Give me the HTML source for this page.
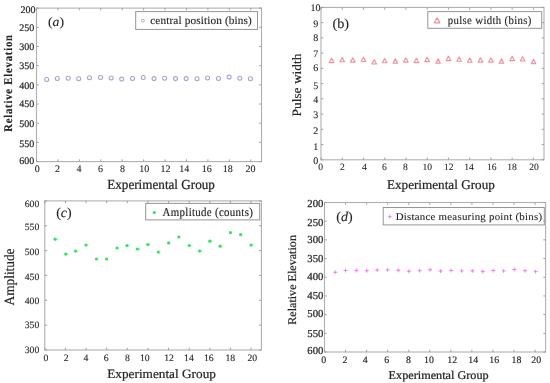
<!DOCTYPE html>
<html><head><meta charset="utf-8"><style>
html,body{margin:0;padding:0;background:#fff;}
body{width:550px;height:383px;overflow:hidden;font-family:"Liberation Serif", serif;}
svg{display:block;filter:blur(0.3px);}
</style></head><body>
<svg width="550" height="383" viewBox="0 0 550 383" font-family="Liberation Serif, serif" text-rendering="geometricPrecision"><text x="0" y="0" transform="matrix(1.0111,0,0,1.0638,107.221,188.974)" font-size="13" font-weight="normal" font-style="normal" fill="#262626" stroke="#262626" stroke-width="0.22">Experimental Group</text>
<text x="0" y="0" transform="matrix(1.0130,0,0,1.0213,386.920,188.591)" font-size="13" font-weight="normal" font-style="normal" fill="#262626" stroke="#262626" stroke-width="0.22">Experimental Group</text>
<text x="0" y="0" transform="matrix(1.0206,0,0,0.9872,107.217,377.885)" font-size="13" font-weight="normal" font-style="normal" fill="#262626" stroke="#262626" stroke-width="0.22">Experimental Group</text>
<text x="0" y="0" transform="matrix(1.0020,0,0,0.9618,388.624,378.575)" font-size="12.2" font-weight="normal" font-style="normal" fill="#262626" stroke="#262626" stroke-width="0.25">Experimental Group</text>
<text x="0" y="0" transform="matrix(1.0885,0,0,0.9802,12.064,131.845) rotate(-90)" font-size="10.8" font-weight="bold" font-style="normal" fill="#262626" stroke="#262626" stroke-width="0.15"><tspan letter-spacing="0.85">Relative Elevation</tspan></text>
<text x="0" y="0" transform="matrix(0.9863,0,0,1.0314,301.377,116.487) rotate(-90)" font-size="13" font-weight="normal" font-style="normal" fill="#262626" stroke="#262626" stroke-width="0.15">Pulse width</text>
<text x="0" y="0" transform="matrix(1.0979,0,0,1.0236,14.481,305.428) rotate(-90)" font-size="13" font-weight="normal" font-style="normal" fill="#262626" stroke="#262626" stroke-width="0.15">Amplitude</text>
<text x="0" y="0" transform="matrix(0.9623,0,0,0.9928,296.180,324.772) rotate(-90)" font-size="12.2" font-weight="normal" font-style="normal" fill="#262626" stroke="#262626" stroke-width="0.2">Relative Elevation</text>
<text x="0" y="0" transform="matrix(1.0249,0,0,1.0200,150.216,23.678)" font-size="11" font-weight="normal" font-style="normal" fill="#262626" stroke="#262626" stroke-width="0.12"><tspan letter-spacing="0.12">central position (bins)</tspan></text>
<text x="0" y="0" transform="matrix(0.9794,0,0,1.0400,447.778,24.430)" font-size="11" font-weight="normal" font-style="normal" fill="#262626" stroke="#262626" stroke-width="0.12"><tspan letter-spacing="0.35">pulse width (bins)</tspan></text>
<text x="0" y="0" transform="matrix(0.9925,0,0,1.0900,162.576,215.711)" font-size="11" font-weight="normal" font-style="normal" fill="#262626" stroke="#262626" stroke-width="0.15"><tspan letter-spacing="0.3">Amplitude (counts)</tspan></text>
<text x="0" y="0" transform="matrix(0.9864,0,0,0.9400,395.730,220.068)" font-size="11" font-weight="normal" font-style="normal" fill="#262626" stroke="#262626" stroke-width="0.12"><tspan letter-spacing="0.25">Distance measuring point (bins)</tspan></text>
<text x="0" y="0" transform="matrix(1.0571,0,0,1.0043,47.939,26.138)" font-size="13" font-weight="normal" font-style="normal" fill="#262626" stroke="#262626" stroke-width="0.12">(<tspan font-style="italic">a</tspan>)</text>
<text x="0" y="0" transform="matrix(1.0929,0,0,1.0468,332.417,28.021)" font-size="13" font-weight="normal" font-style="normal" fill="#262626" stroke="#262626" stroke-width="0.12">(b)</text>
<text x="0" y="0" transform="matrix(1.0717,0,0,1.0468,56.130,216.521)" font-size="13" font-weight="normal" font-style="normal" fill="#262626" stroke="#262626" stroke-width="0.12">(<tspan font-style="italic">c</tspan>)</text>
<text x="0" y="0" transform="matrix(1.0786,0,0,1.0383,336.226,221.045)" font-size="13" font-weight="normal" font-style="normal" fill="#262626" stroke="#262626" stroke-width="0.12">(<tspan font-style="italic">d</tspan>)</text>
<rect x="36.5" y="8.1" width="225.00" height="153.50" fill="none" stroke="#b0b0b0" stroke-width="1.1"/>
<line x1="36.50" y1="161.6" x2="36.50" y2="159.29999999999998" stroke="#999999" stroke-width="0.9"/>
<line x1="36.50" y1="8.1" x2="36.50" y2="10.399999999999999" stroke="#999999" stroke-width="0.9"/>
<text x="37.20" y="171.85" font-size="10" text-anchor="middle" fill="#262626" stroke="#262626" stroke-width="0.1">0</text>
<line x1="57.93" y1="161.6" x2="57.93" y2="159.29999999999998" stroke="#999999" stroke-width="0.9"/>
<line x1="57.93" y1="8.1" x2="57.93" y2="10.399999999999999" stroke="#999999" stroke-width="0.9"/>
<text x="57.60" y="171.85" font-size="10" text-anchor="middle" fill="#262626" stroke="#262626" stroke-width="0.1">2</text>
<line x1="79.36" y1="161.6" x2="79.36" y2="159.29999999999998" stroke="#999999" stroke-width="0.9"/>
<line x1="79.36" y1="8.1" x2="79.36" y2="10.399999999999999" stroke="#999999" stroke-width="0.9"/>
<text x="79.00" y="171.85" font-size="10" text-anchor="middle" fill="#262626" stroke="#262626" stroke-width="0.1">4</text>
<line x1="100.79" y1="161.6" x2="100.79" y2="159.29999999999998" stroke="#999999" stroke-width="0.9"/>
<line x1="100.79" y1="8.1" x2="100.79" y2="10.399999999999999" stroke="#999999" stroke-width="0.9"/>
<text x="100.40" y="171.85" font-size="10" text-anchor="middle" fill="#262626" stroke="#262626" stroke-width="0.1">6</text>
<line x1="122.21" y1="161.6" x2="122.21" y2="159.29999999999998" stroke="#999999" stroke-width="0.9"/>
<line x1="122.21" y1="8.1" x2="122.21" y2="10.399999999999999" stroke="#999999" stroke-width="0.9"/>
<text x="122.50" y="171.85" font-size="10" text-anchor="middle" fill="#262626" stroke="#262626" stroke-width="0.1">8</text>
<line x1="143.64" y1="161.6" x2="143.64" y2="159.29999999999998" stroke="#999999" stroke-width="0.9"/>
<line x1="143.64" y1="8.1" x2="143.64" y2="10.399999999999999" stroke="#999999" stroke-width="0.9"/>
<text x="144.20" y="171.85" font-size="10" text-anchor="middle" fill="#262626" stroke="#262626" stroke-width="0.1">10</text>
<line x1="165.07" y1="161.6" x2="165.07" y2="159.29999999999998" stroke="#999999" stroke-width="0.9"/>
<line x1="165.07" y1="8.1" x2="165.07" y2="10.399999999999999" stroke="#999999" stroke-width="0.9"/>
<text x="165.60" y="171.85" font-size="10" text-anchor="middle" fill="#262626" stroke="#262626" stroke-width="0.1">12</text>
<line x1="186.50" y1="161.6" x2="186.50" y2="159.29999999999998" stroke="#999999" stroke-width="0.9"/>
<line x1="186.50" y1="8.1" x2="186.50" y2="10.399999999999999" stroke="#999999" stroke-width="0.9"/>
<text x="184.30" y="171.85" font-size="10" text-anchor="middle" fill="#262626" stroke="#262626" stroke-width="0.1">14</text>
<line x1="207.93" y1="161.6" x2="207.93" y2="159.29999999999998" stroke="#999999" stroke-width="0.9"/>
<line x1="207.93" y1="8.1" x2="207.93" y2="10.399999999999999" stroke="#999999" stroke-width="0.9"/>
<text x="206.80" y="171.85" font-size="10" text-anchor="middle" fill="#262626" stroke="#262626" stroke-width="0.1">16</text>
<line x1="229.36" y1="161.6" x2="229.36" y2="159.29999999999998" stroke="#999999" stroke-width="0.9"/>
<line x1="229.36" y1="8.1" x2="229.36" y2="10.399999999999999" stroke="#999999" stroke-width="0.9"/>
<text x="227.80" y="171.85" font-size="10" text-anchor="middle" fill="#262626" stroke="#262626" stroke-width="0.1">18</text>
<line x1="250.79" y1="161.6" x2="250.79" y2="159.29999999999998" stroke="#999999" stroke-width="0.9"/>
<line x1="250.79" y1="8.1" x2="250.79" y2="10.399999999999999" stroke="#999999" stroke-width="0.9"/>
<text x="250.60" y="171.85" font-size="10" text-anchor="middle" fill="#262626" stroke="#262626" stroke-width="0.1">20</text>
<line x1="36.5" y1="8.10" x2="38.8" y2="8.10" stroke="#999999" stroke-width="0.9"/>
<line x1="261.5" y1="8.10" x2="259.2" y2="8.10" stroke="#999999" stroke-width="0.9"/>
<text x="35.40" y="13.25" font-size="10" text-anchor="end" fill="#262626" stroke="#262626" stroke-width="0.2">200</text>
<line x1="36.5" y1="27.29" x2="38.8" y2="27.29" stroke="#999999" stroke-width="0.9"/>
<line x1="261.5" y1="27.29" x2="259.2" y2="27.29" stroke="#999999" stroke-width="0.9"/>
<text x="34.30" y="31.05" font-size="10" text-anchor="end" fill="#262626" stroke="#262626" stroke-width="0.2">250</text>
<line x1="36.5" y1="46.48" x2="38.8" y2="46.48" stroke="#999999" stroke-width="0.9"/>
<line x1="261.5" y1="46.48" x2="259.2" y2="46.48" stroke="#999999" stroke-width="0.9"/>
<text x="34.30" y="49.85" font-size="10" text-anchor="end" fill="#262626" stroke="#262626" stroke-width="0.2">300</text>
<line x1="36.5" y1="65.66" x2="38.8" y2="65.66" stroke="#999999" stroke-width="0.9"/>
<line x1="261.5" y1="65.66" x2="259.2" y2="65.66" stroke="#999999" stroke-width="0.9"/>
<text x="34.30" y="68.85" font-size="10" text-anchor="end" fill="#262626" stroke="#262626" stroke-width="0.2">350</text>
<line x1="36.5" y1="84.85" x2="38.8" y2="84.85" stroke="#999999" stroke-width="0.9"/>
<line x1="261.5" y1="84.85" x2="259.2" y2="84.85" stroke="#999999" stroke-width="0.9"/>
<text x="34.30" y="88.65" font-size="10" text-anchor="end" fill="#262626" stroke="#262626" stroke-width="0.2">400</text>
<line x1="36.5" y1="104.04" x2="38.8" y2="104.04" stroke="#999999" stroke-width="0.9"/>
<line x1="261.5" y1="104.04" x2="259.2" y2="104.04" stroke="#999999" stroke-width="0.9"/>
<text x="34.30" y="107.05" font-size="10" text-anchor="end" fill="#262626" stroke="#262626" stroke-width="0.2">450</text>
<line x1="36.5" y1="123.22" x2="38.8" y2="123.22" stroke="#999999" stroke-width="0.9"/>
<line x1="261.5" y1="123.22" x2="259.2" y2="123.22" stroke="#999999" stroke-width="0.9"/>
<text x="34.30" y="127.45" font-size="10" text-anchor="end" fill="#262626" stroke="#262626" stroke-width="0.2">500</text>
<line x1="36.5" y1="142.41" x2="38.8" y2="142.41" stroke="#999999" stroke-width="0.9"/>
<line x1="261.5" y1="142.41" x2="259.2" y2="142.41" stroke="#999999" stroke-width="0.9"/>
<text x="34.30" y="147.05" font-size="10" text-anchor="end" fill="#262626" stroke="#262626" stroke-width="0.2">550</text>
<line x1="36.5" y1="161.60" x2="38.8" y2="161.60" stroke="#999999" stroke-width="0.9"/>
<line x1="261.5" y1="161.60" x2="259.2" y2="161.60" stroke="#999999" stroke-width="0.9"/>
<text x="34.30" y="163.85" font-size="10" text-anchor="end" fill="#262626" stroke="#262626" stroke-width="0.2">600</text>
<rect x="135.7" y="11.6" width="121.80" height="17.80" fill="none" stroke="#959595" stroke-width="1"/>
<circle cx="142.90" cy="20.70" r="1.45" fill="none" stroke="#a2a2d8" stroke-width="0.9"/>
<circle cx="46.70" cy="79.40" r="2.0" fill="none" stroke="#a2a2d8" stroke-width="1.05"/>
<circle cx="57.30" cy="78.50" r="2.0" fill="none" stroke="#a2a2d8" stroke-width="1.05"/>
<circle cx="68.20" cy="78.30" r="2.0" fill="none" stroke="#a2a2d8" stroke-width="1.05"/>
<circle cx="78.70" cy="78.70" r="2.0" fill="none" stroke="#a2a2d8" stroke-width="1.05"/>
<circle cx="89.50" cy="77.80" r="2.0" fill="none" stroke="#a2a2d8" stroke-width="1.05"/>
<circle cx="100.50" cy="77.40" r="2.0" fill="none" stroke="#a2a2d8" stroke-width="1.05"/>
<circle cx="111.10" cy="78.00" r="2.0" fill="none" stroke="#a2a2d8" stroke-width="1.05"/>
<circle cx="121.70" cy="79.10" r="2.0" fill="none" stroke="#a2a2d8" stroke-width="1.05"/>
<circle cx="132.50" cy="78.50" r="2.0" fill="none" stroke="#a2a2d8" stroke-width="1.05"/>
<circle cx="143.20" cy="77.40" r="2.0" fill="none" stroke="#a2a2d8" stroke-width="1.05"/>
<circle cx="154.00" cy="78.60" r="2.0" fill="none" stroke="#a2a2d8" stroke-width="1.05"/>
<circle cx="164.60" cy="78.20" r="2.0" fill="none" stroke="#a2a2d8" stroke-width="1.05"/>
<circle cx="175.50" cy="78.60" r="2.0" fill="none" stroke="#a2a2d8" stroke-width="1.05"/>
<circle cx="186.10" cy="78.60" r="2.0" fill="none" stroke="#a2a2d8" stroke-width="1.05"/>
<circle cx="197.00" cy="78.80" r="2.0" fill="none" stroke="#a2a2d8" stroke-width="1.05"/>
<circle cx="207.60" cy="78.00" r="2.0" fill="none" stroke="#a2a2d8" stroke-width="1.05"/>
<circle cx="218.50" cy="78.40" r="2.0" fill="none" stroke="#a2a2d8" stroke-width="1.05"/>
<circle cx="229.10" cy="77.10" r="2.0" fill="none" stroke="#a2a2d8" stroke-width="1.05"/>
<circle cx="239.80" cy="78.20" r="2.0" fill="none" stroke="#a2a2d8" stroke-width="1.05"/>
<circle cx="250.40" cy="78.80" r="2.0" fill="none" stroke="#a2a2d8" stroke-width="1.05"/>
<rect x="321" y="7.4" width="223.00" height="152.40" fill="none" stroke="#b0b0b0" stroke-width="1.1"/>
<line x1="321.00" y1="159.8" x2="321.00" y2="157.5" stroke="#999999" stroke-width="0.9"/>
<line x1="321.00" y1="7.4" x2="321.00" y2="9.7" stroke="#999999" stroke-width="0.9"/>
<text x="320.70" y="170.22" font-size="9.6" text-anchor="middle" fill="#262626" stroke="#262626" stroke-width="0.08">0</text>
<line x1="342.24" y1="159.8" x2="342.24" y2="157.5" stroke="#999999" stroke-width="0.9"/>
<line x1="342.24" y1="7.4" x2="342.24" y2="9.7" stroke="#999999" stroke-width="0.9"/>
<text x="342.50" y="170.22" font-size="9.6" text-anchor="middle" fill="#262626" stroke="#262626" stroke-width="0.08">2</text>
<line x1="363.48" y1="159.8" x2="363.48" y2="157.5" stroke="#999999" stroke-width="0.9"/>
<line x1="363.48" y1="7.4" x2="363.48" y2="9.7" stroke="#999999" stroke-width="0.9"/>
<text x="364.30" y="170.22" font-size="9.6" text-anchor="middle" fill="#262626" stroke="#262626" stroke-width="0.08">4</text>
<line x1="384.71" y1="159.8" x2="384.71" y2="157.5" stroke="#999999" stroke-width="0.9"/>
<line x1="384.71" y1="7.4" x2="384.71" y2="9.7" stroke="#999999" stroke-width="0.9"/>
<text x="384.40" y="170.22" font-size="9.6" text-anchor="middle" fill="#262626" stroke="#262626" stroke-width="0.08">6</text>
<line x1="405.95" y1="159.8" x2="405.95" y2="157.5" stroke="#999999" stroke-width="0.9"/>
<line x1="405.95" y1="7.4" x2="405.95" y2="9.7" stroke="#999999" stroke-width="0.9"/>
<text x="405.50" y="170.22" font-size="9.6" text-anchor="middle" fill="#262626" stroke="#262626" stroke-width="0.08">8</text>
<line x1="427.19" y1="159.8" x2="427.19" y2="157.5" stroke="#999999" stroke-width="0.9"/>
<line x1="427.19" y1="7.4" x2="427.19" y2="9.7" stroke="#999999" stroke-width="0.9"/>
<text x="427.30" y="170.22" font-size="9.6" text-anchor="middle" fill="#262626" stroke="#262626" stroke-width="0.08">10</text>
<line x1="448.43" y1="159.8" x2="448.43" y2="157.5" stroke="#999999" stroke-width="0.9"/>
<line x1="448.43" y1="7.4" x2="448.43" y2="9.7" stroke="#999999" stroke-width="0.9"/>
<text x="448.80" y="170.22" font-size="9.6" text-anchor="middle" fill="#262626" stroke="#262626" stroke-width="0.08">12</text>
<line x1="469.67" y1="159.8" x2="469.67" y2="157.5" stroke="#999999" stroke-width="0.9"/>
<line x1="469.67" y1="7.4" x2="469.67" y2="9.7" stroke="#999999" stroke-width="0.9"/>
<text x="469.00" y="170.22" font-size="9.6" text-anchor="middle" fill="#262626" stroke="#262626" stroke-width="0.08">14</text>
<line x1="490.90" y1="159.8" x2="490.90" y2="157.5" stroke="#999999" stroke-width="0.9"/>
<line x1="490.90" y1="7.4" x2="490.90" y2="9.7" stroke="#999999" stroke-width="0.9"/>
<text x="491.70" y="170.22" font-size="9.6" text-anchor="middle" fill="#262626" stroke="#262626" stroke-width="0.08">16</text>
<line x1="512.14" y1="159.8" x2="512.14" y2="157.5" stroke="#999999" stroke-width="0.9"/>
<line x1="512.14" y1="7.4" x2="512.14" y2="9.7" stroke="#999999" stroke-width="0.9"/>
<text x="512.00" y="170.22" font-size="9.6" text-anchor="middle" fill="#262626" stroke="#262626" stroke-width="0.08">18</text>
<line x1="533.38" y1="159.8" x2="533.38" y2="157.5" stroke="#999999" stroke-width="0.9"/>
<line x1="533.38" y1="7.4" x2="533.38" y2="9.7" stroke="#999999" stroke-width="0.9"/>
<text x="534.00" y="170.22" font-size="9.6" text-anchor="middle" fill="#262626" stroke="#262626" stroke-width="0.08">20</text>
<line x1="321" y1="7.40" x2="323.3" y2="7.40" stroke="#999999" stroke-width="0.9"/>
<line x1="544.0" y1="7.40" x2="541.7" y2="7.40" stroke="#999999" stroke-width="0.9"/>
<text x="320.60" y="11.45" font-size="10" text-anchor="end" fill="#262626" stroke="#262626" stroke-width="0.1">10</text>
<line x1="321" y1="22.64" x2="323.3" y2="22.64" stroke="#999999" stroke-width="0.9"/>
<line x1="544.0" y1="22.64" x2="541.7" y2="22.64" stroke="#999999" stroke-width="0.9"/>
<text x="318.20" y="26.55" font-size="10" text-anchor="end" fill="#262626" stroke="#262626" stroke-width="0.1">9</text>
<line x1="321" y1="37.88" x2="323.3" y2="37.88" stroke="#999999" stroke-width="0.9"/>
<line x1="544.0" y1="37.88" x2="541.7" y2="37.88" stroke="#999999" stroke-width="0.9"/>
<text x="318.20" y="41.05" font-size="10" text-anchor="end" fill="#262626" stroke="#262626" stroke-width="0.1">8</text>
<line x1="321" y1="53.12" x2="323.3" y2="53.12" stroke="#999999" stroke-width="0.9"/>
<line x1="544.0" y1="53.12" x2="541.7" y2="53.12" stroke="#999999" stroke-width="0.9"/>
<text x="318.20" y="56.55" font-size="10" text-anchor="end" fill="#262626" stroke="#262626" stroke-width="0.1">7</text>
<line x1="321" y1="68.36" x2="323.3" y2="68.36" stroke="#999999" stroke-width="0.9"/>
<line x1="544.0" y1="68.36" x2="541.7" y2="68.36" stroke="#999999" stroke-width="0.9"/>
<text x="318.20" y="71.15" font-size="10" text-anchor="end" fill="#262626" stroke="#262626" stroke-width="0.1">6</text>
<line x1="321" y1="83.60" x2="323.3" y2="83.60" stroke="#999999" stroke-width="0.9"/>
<line x1="544.0" y1="83.60" x2="541.7" y2="83.60" stroke="#999999" stroke-width="0.9"/>
<text x="318.20" y="89.25" font-size="10" text-anchor="end" fill="#262626" stroke="#262626" stroke-width="0.1">5</text>
<line x1="321" y1="98.84" x2="323.3" y2="98.84" stroke="#999999" stroke-width="0.9"/>
<line x1="544.0" y1="98.84" x2="541.7" y2="98.84" stroke="#999999" stroke-width="0.9"/>
<text x="318.20" y="103.45" font-size="10" text-anchor="end" fill="#262626" stroke="#262626" stroke-width="0.1">4</text>
<line x1="321" y1="114.08" x2="323.3" y2="114.08" stroke="#999999" stroke-width="0.9"/>
<line x1="544.0" y1="114.08" x2="541.7" y2="114.08" stroke="#999999" stroke-width="0.9"/>
<text x="318.20" y="118.25" font-size="10" text-anchor="end" fill="#262626" stroke="#262626" stroke-width="0.1">3</text>
<line x1="321" y1="129.32" x2="323.3" y2="129.32" stroke="#999999" stroke-width="0.9"/>
<line x1="544.0" y1="129.32" x2="541.7" y2="129.32" stroke="#999999" stroke-width="0.9"/>
<text x="318.20" y="134.45" font-size="10" text-anchor="end" fill="#262626" stroke="#262626" stroke-width="0.1">2</text>
<line x1="321" y1="144.56" x2="323.3" y2="144.56" stroke="#999999" stroke-width="0.9"/>
<line x1="544.0" y1="144.56" x2="541.7" y2="144.56" stroke="#999999" stroke-width="0.9"/>
<text x="318.20" y="149.85" font-size="10" text-anchor="end" fill="#262626" stroke="#262626" stroke-width="0.1">1</text>
<line x1="321" y1="159.80" x2="323.3" y2="159.80" stroke="#999999" stroke-width="0.9"/>
<line x1="544.0" y1="159.80" x2="541.7" y2="159.80" stroke="#999999" stroke-width="0.9"/>
<text x="318.20" y="164.05" font-size="10" text-anchor="end" fill="#262626" stroke="#262626" stroke-width="0.1">0</text>
<rect x="427.8" y="11.6" width="113.90" height="16.70" fill="none" stroke="#959595" stroke-width="1"/>
<path d="M437.10,17.90 L439.80,22.80 L434.40,22.80 Z" fill="none" stroke="#f2919d" stroke-width="1.15" stroke-linejoin="round"/>
<path d="M331.50,58.25 L333.75,62.55 L329.25,62.55 Z" fill="none" stroke="#f2919d" stroke-width="1.15" stroke-linejoin="round"/>
<path d="M342.20,57.45 L344.45,61.75 L339.95,61.75 Z" fill="none" stroke="#f2919d" stroke-width="1.15" stroke-linejoin="round"/>
<path d="M352.80,57.75 L355.05,62.05 L350.55,62.05 Z" fill="none" stroke="#f2919d" stroke-width="1.15" stroke-linejoin="round"/>
<path d="M363.50,57.15 L365.75,61.45 L361.25,61.45 Z" fill="none" stroke="#f2919d" stroke-width="1.15" stroke-linejoin="round"/>
<path d="M374.20,59.65 L376.45,63.95 L371.95,63.95 Z" fill="none" stroke="#f2919d" stroke-width="1.15" stroke-linejoin="round"/>
<path d="M384.60,58.45 L386.85,62.75 L382.35,62.75 Z" fill="none" stroke="#f2919d" stroke-width="1.15" stroke-linejoin="round"/>
<path d="M395.30,58.85 L397.55,63.15 L393.05,63.15 Z" fill="none" stroke="#f2919d" stroke-width="1.15" stroke-linejoin="round"/>
<path d="M405.80,57.75 L408.05,62.05 L403.55,62.05 Z" fill="none" stroke="#f2919d" stroke-width="1.15" stroke-linejoin="round"/>
<path d="M416.40,58.25 L418.65,62.55 L414.15,62.55 Z" fill="none" stroke="#f2919d" stroke-width="1.15" stroke-linejoin="round"/>
<path d="M427.10,57.25 L429.35,61.55 L424.85,61.55 Z" fill="none" stroke="#f2919d" stroke-width="1.15" stroke-linejoin="round"/>
<path d="M438.10,58.85 L440.35,63.15 L435.85,63.15 Z" fill="none" stroke="#f2919d" stroke-width="1.15" stroke-linejoin="round"/>
<path d="M448.40,56.25 L450.65,60.55 L446.15,60.55 Z" fill="none" stroke="#f2919d" stroke-width="1.15" stroke-linejoin="round"/>
<path d="M459.10,56.95 L461.35,61.25 L456.85,61.25 Z" fill="none" stroke="#f2919d" stroke-width="1.15" stroke-linejoin="round"/>
<path d="M469.80,57.95 L472.05,62.25 L467.55,62.25 Z" fill="none" stroke="#f2919d" stroke-width="1.15" stroke-linejoin="round"/>
<path d="M480.50,57.75 L482.75,62.05 L478.25,62.05 Z" fill="none" stroke="#f2919d" stroke-width="1.15" stroke-linejoin="round"/>
<path d="M490.90,57.75 L493.15,62.05 L488.65,62.05 Z" fill="none" stroke="#f2919d" stroke-width="1.15" stroke-linejoin="round"/>
<path d="M501.40,58.85 L503.65,63.15 L499.15,63.15 Z" fill="none" stroke="#f2919d" stroke-width="1.15" stroke-linejoin="round"/>
<path d="M512.10,56.25 L514.35,60.55 L509.85,60.55 Z" fill="none" stroke="#f2919d" stroke-width="1.15" stroke-linejoin="round"/>
<path d="M522.60,56.65 L524.85,60.95 L520.35,60.95 Z" fill="none" stroke="#f2919d" stroke-width="1.15" stroke-linejoin="round"/>
<path d="M533.50,59.35 L535.75,63.65 L531.25,63.65 Z" fill="none" stroke="#f2919d" stroke-width="1.15" stroke-linejoin="round"/>
<rect x="44.8" y="200.9" width="216.60" height="149.10" fill="none" stroke="#b0b0b0" stroke-width="1.1"/>
<line x1="44.80" y1="350.0" x2="44.80" y2="347.7" stroke="#999999" stroke-width="0.9"/>
<line x1="44.80" y1="200.9" x2="44.80" y2="203.20000000000002" stroke="#999999" stroke-width="0.9"/>
<text x="45.90" y="361.45" font-size="9.7" text-anchor="middle" fill="#262626" stroke="#262626" stroke-width="0.12">0</text>
<line x1="65.43" y1="350.0" x2="65.43" y2="347.7" stroke="#999999" stroke-width="0.9"/>
<line x1="65.43" y1="200.9" x2="65.43" y2="203.20000000000002" stroke="#999999" stroke-width="0.9"/>
<text x="66.20" y="361.45" font-size="9.7" text-anchor="middle" fill="#262626" stroke="#262626" stroke-width="0.12">2</text>
<line x1="86.06" y1="350.0" x2="86.06" y2="347.7" stroke="#999999" stroke-width="0.9"/>
<line x1="86.06" y1="200.9" x2="86.06" y2="203.20000000000002" stroke="#999999" stroke-width="0.9"/>
<text x="85.80" y="361.45" font-size="9.7" text-anchor="middle" fill="#262626" stroke="#262626" stroke-width="0.12">4</text>
<line x1="106.69" y1="350.0" x2="106.69" y2="347.7" stroke="#999999" stroke-width="0.9"/>
<line x1="106.69" y1="200.9" x2="106.69" y2="203.20000000000002" stroke="#999999" stroke-width="0.9"/>
<text x="106.20" y="361.45" font-size="9.7" text-anchor="middle" fill="#262626" stroke="#262626" stroke-width="0.12">6</text>
<line x1="127.31" y1="350.0" x2="127.31" y2="347.7" stroke="#999999" stroke-width="0.9"/>
<line x1="127.31" y1="200.9" x2="127.31" y2="203.20000000000002" stroke="#999999" stroke-width="0.9"/>
<text x="127.30" y="361.45" font-size="9.7" text-anchor="middle" fill="#262626" stroke="#262626" stroke-width="0.12">8</text>
<line x1="147.94" y1="350.0" x2="147.94" y2="347.7" stroke="#999999" stroke-width="0.9"/>
<line x1="147.94" y1="200.9" x2="147.94" y2="203.20000000000002" stroke="#999999" stroke-width="0.9"/>
<text x="144.80" y="361.45" font-size="9.7" text-anchor="middle" fill="#262626" stroke="#262626" stroke-width="0.12">10</text>
<line x1="168.57" y1="350.0" x2="168.57" y2="347.7" stroke="#999999" stroke-width="0.9"/>
<line x1="168.57" y1="200.9" x2="168.57" y2="203.20000000000002" stroke="#999999" stroke-width="0.9"/>
<text x="169.00" y="361.45" font-size="9.7" text-anchor="middle" fill="#262626" stroke="#262626" stroke-width="0.12">12</text>
<line x1="189.20" y1="350.0" x2="189.20" y2="347.7" stroke="#999999" stroke-width="0.9"/>
<line x1="189.20" y1="200.9" x2="189.20" y2="203.20000000000002" stroke="#999999" stroke-width="0.9"/>
<text x="188.90" y="361.45" font-size="9.7" text-anchor="middle" fill="#262626" stroke="#262626" stroke-width="0.12">14</text>
<line x1="209.83" y1="350.0" x2="209.83" y2="347.7" stroke="#999999" stroke-width="0.9"/>
<line x1="209.83" y1="200.9" x2="209.83" y2="203.20000000000002" stroke="#999999" stroke-width="0.9"/>
<text x="208.80" y="361.45" font-size="9.7" text-anchor="middle" fill="#262626" stroke="#262626" stroke-width="0.12">16</text>
<line x1="230.46" y1="350.0" x2="230.46" y2="347.7" stroke="#999999" stroke-width="0.9"/>
<line x1="230.46" y1="200.9" x2="230.46" y2="203.20000000000002" stroke="#999999" stroke-width="0.9"/>
<text x="230.30" y="361.45" font-size="9.7" text-anchor="middle" fill="#262626" stroke="#262626" stroke-width="0.12">18</text>
<line x1="251.09" y1="350.0" x2="251.09" y2="347.7" stroke="#999999" stroke-width="0.9"/>
<line x1="251.09" y1="200.9" x2="251.09" y2="203.20000000000002" stroke="#999999" stroke-width="0.9"/>
<text x="252.30" y="361.45" font-size="9.7" text-anchor="middle" fill="#262626" stroke="#262626" stroke-width="0.12">20</text>
<line x1="44.8" y1="200.90" x2="47.099999999999994" y2="200.90" stroke="#999999" stroke-width="0.9"/>
<line x1="261.4" y1="200.90" x2="259.09999999999997" y2="200.90" stroke="#999999" stroke-width="0.9"/>
<text x="39.30" y="207.25" font-size="9.7" text-anchor="end" fill="#262626" stroke="#262626" stroke-width="0.12">600</text>
<line x1="44.8" y1="225.75" x2="47.099999999999994" y2="225.75" stroke="#999999" stroke-width="0.9"/>
<line x1="261.4" y1="225.75" x2="259.09999999999997" y2="225.75" stroke="#999999" stroke-width="0.9"/>
<text x="39.30" y="229.75" font-size="9.7" text-anchor="end" fill="#262626" stroke="#262626" stroke-width="0.12">550</text>
<line x1="44.8" y1="250.60" x2="47.099999999999994" y2="250.60" stroke="#999999" stroke-width="0.9"/>
<line x1="261.4" y1="250.60" x2="259.09999999999997" y2="250.60" stroke="#999999" stroke-width="0.9"/>
<text x="39.30" y="255.45" font-size="9.7" text-anchor="end" fill="#262626" stroke="#262626" stroke-width="0.12">500</text>
<line x1="44.8" y1="275.45" x2="47.099999999999994" y2="275.45" stroke="#999999" stroke-width="0.9"/>
<line x1="261.4" y1="275.45" x2="259.09999999999997" y2="275.45" stroke="#999999" stroke-width="0.9"/>
<text x="39.30" y="279.75" font-size="9.7" text-anchor="end" fill="#262626" stroke="#262626" stroke-width="0.12">450</text>
<line x1="44.8" y1="300.30" x2="47.099999999999994" y2="300.30" stroke="#999999" stroke-width="0.9"/>
<line x1="261.4" y1="300.30" x2="259.09999999999997" y2="300.30" stroke="#999999" stroke-width="0.9"/>
<text x="39.30" y="303.75" font-size="9.7" text-anchor="end" fill="#262626" stroke="#262626" stroke-width="0.12">400</text>
<line x1="44.8" y1="325.15" x2="47.099999999999994" y2="325.15" stroke="#999999" stroke-width="0.9"/>
<line x1="261.4" y1="325.15" x2="259.09999999999997" y2="325.15" stroke="#999999" stroke-width="0.9"/>
<text x="39.30" y="328.15" font-size="9.7" text-anchor="end" fill="#262626" stroke="#262626" stroke-width="0.12">350</text>
<line x1="44.8" y1="350.00" x2="47.099999999999994" y2="350.00" stroke="#999999" stroke-width="0.9"/>
<line x1="261.4" y1="350.00" x2="259.09999999999997" y2="350.00" stroke="#999999" stroke-width="0.9"/>
<text x="39.30" y="352.65" font-size="9.7" text-anchor="end" fill="#262626" stroke="#262626" stroke-width="0.12">300</text>
<rect x="145.7" y="203.4" width="114.00" height="16.50" fill="none" stroke="#959595" stroke-width="1"/>
<circle cx="154.20" cy="212.50" r="1.6" fill="#22ee55"/>
<circle cx="55.10" cy="239.20" r="1.6" fill="#22ee55"/>
<circle cx="65.70" cy="254.10" r="1.6" fill="#22ee55"/>
<circle cx="75.50" cy="251.10" r="1.6" fill="#22ee55"/>
<circle cx="86.00" cy="245.00" r="1.6" fill="#22ee55"/>
<circle cx="96.40" cy="259.00" r="1.6" fill="#22ee55"/>
<circle cx="106.60" cy="259.00" r="1.6" fill="#22ee55"/>
<circle cx="117.00" cy="248.00" r="1.6" fill="#22ee55"/>
<circle cx="127.00" cy="245.60" r="1.6" fill="#22ee55"/>
<circle cx="137.40" cy="249.00" r="1.6" fill="#22ee55"/>
<circle cx="147.80" cy="244.60" r="1.6" fill="#22ee55"/>
<circle cx="158.30" cy="252.10" r="1.6" fill="#22ee55"/>
<circle cx="168.60" cy="242.90" r="1.6" fill="#22ee55"/>
<circle cx="178.80" cy="237.00" r="1.6" fill="#22ee55"/>
<circle cx="189.30" cy="245.50" r="1.6" fill="#22ee55"/>
<circle cx="199.60" cy="251.00" r="1.6" fill="#22ee55"/>
<circle cx="209.80" cy="241.20" r="1.6" fill="#22ee55"/>
<circle cx="220.10" cy="246.20" r="1.6" fill="#22ee55"/>
<circle cx="230.40" cy="232.70" r="1.6" fill="#22ee55"/>
<circle cx="240.60" cy="234.60" r="1.6" fill="#22ee55"/>
<circle cx="251.10" cy="245.10" r="1.6" fill="#22ee55"/>
<rect x="324.5" y="202.5" width="221.10" height="149.50" fill="none" stroke="#b0b0b0" stroke-width="1.1"/>
<line x1="324.50" y1="352.0" x2="324.50" y2="349.7" stroke="#999999" stroke-width="0.9"/>
<line x1="324.50" y1="202.5" x2="324.50" y2="204.8" stroke="#999999" stroke-width="0.9"/>
<text x="323.60" y="363.32" font-size="9.9" text-anchor="middle" fill="#262626" stroke="#262626" stroke-width="0.15">0</text>
<line x1="345.56" y1="352.0" x2="345.56" y2="349.7" stroke="#999999" stroke-width="0.9"/>
<line x1="345.56" y1="202.5" x2="345.56" y2="204.8" stroke="#999999" stroke-width="0.9"/>
<text x="345.00" y="363.32" font-size="9.9" text-anchor="middle" fill="#262626" stroke="#262626" stroke-width="0.15">2</text>
<line x1="366.61" y1="352.0" x2="366.61" y2="349.7" stroke="#999999" stroke-width="0.9"/>
<line x1="366.61" y1="202.5" x2="366.61" y2="204.8" stroke="#999999" stroke-width="0.9"/>
<text x="365.20" y="363.32" font-size="9.9" text-anchor="middle" fill="#262626" stroke="#262626" stroke-width="0.15">4</text>
<line x1="387.67" y1="352.0" x2="387.67" y2="349.7" stroke="#999999" stroke-width="0.9"/>
<line x1="387.67" y1="202.5" x2="387.67" y2="204.8" stroke="#999999" stroke-width="0.9"/>
<text x="386.60" y="363.32" font-size="9.9" text-anchor="middle" fill="#262626" stroke="#262626" stroke-width="0.15">6</text>
<line x1="408.73" y1="352.0" x2="408.73" y2="349.7" stroke="#999999" stroke-width="0.9"/>
<line x1="408.73" y1="202.5" x2="408.73" y2="204.8" stroke="#999999" stroke-width="0.9"/>
<text x="408.40" y="363.32" font-size="9.9" text-anchor="middle" fill="#262626" stroke="#262626" stroke-width="0.15">8</text>
<line x1="429.79" y1="352.0" x2="429.79" y2="349.7" stroke="#999999" stroke-width="0.9"/>
<line x1="429.79" y1="202.5" x2="429.79" y2="204.8" stroke="#999999" stroke-width="0.9"/>
<text x="428.90" y="363.32" font-size="9.9" text-anchor="middle" fill="#262626" stroke="#262626" stroke-width="0.15">10</text>
<line x1="450.84" y1="352.0" x2="450.84" y2="349.7" stroke="#999999" stroke-width="0.9"/>
<line x1="450.84" y1="202.5" x2="450.84" y2="204.8" stroke="#999999" stroke-width="0.9"/>
<text x="452.20" y="363.32" font-size="9.9" text-anchor="middle" fill="#262626" stroke="#262626" stroke-width="0.15">12</text>
<line x1="471.90" y1="352.0" x2="471.90" y2="349.7" stroke="#999999" stroke-width="0.9"/>
<line x1="471.90" y1="202.5" x2="471.90" y2="204.8" stroke="#999999" stroke-width="0.9"/>
<text x="473.30" y="363.32" font-size="9.9" text-anchor="middle" fill="#262626" stroke="#262626" stroke-width="0.15">14</text>
<line x1="492.96" y1="352.0" x2="492.96" y2="349.7" stroke="#999999" stroke-width="0.9"/>
<line x1="492.96" y1="202.5" x2="492.96" y2="204.8" stroke="#999999" stroke-width="0.9"/>
<text x="494.20" y="363.32" font-size="9.9" text-anchor="middle" fill="#262626" stroke="#262626" stroke-width="0.15">16</text>
<line x1="514.01" y1="352.0" x2="514.01" y2="349.7" stroke="#999999" stroke-width="0.9"/>
<line x1="514.01" y1="202.5" x2="514.01" y2="204.8" stroke="#999999" stroke-width="0.9"/>
<text x="516.50" y="363.32" font-size="9.9" text-anchor="middle" fill="#262626" stroke="#262626" stroke-width="0.15">18</text>
<line x1="535.07" y1="352.0" x2="535.07" y2="349.7" stroke="#999999" stroke-width="0.9"/>
<line x1="535.07" y1="202.5" x2="535.07" y2="204.8" stroke="#999999" stroke-width="0.9"/>
<text x="536.20" y="363.32" font-size="9.9" text-anchor="middle" fill="#262626" stroke="#262626" stroke-width="0.15">20</text>
<line x1="324.5" y1="202.50" x2="326.8" y2="202.50" stroke="#999999" stroke-width="0.9"/>
<line x1="545.6" y1="202.50" x2="543.3000000000001" y2="202.50" stroke="#999999" stroke-width="0.9"/>
<text x="323.40" y="207.38" font-size="10.7" text-anchor="end" fill="#262626" stroke="#262626" stroke-width="0.25">200</text>
<line x1="324.5" y1="221.19" x2="326.8" y2="221.19" stroke="#999999" stroke-width="0.9"/>
<line x1="545.6" y1="221.19" x2="543.3000000000001" y2="221.19" stroke="#999999" stroke-width="0.9"/>
<text x="323.40" y="225.68" font-size="10.7" text-anchor="end" fill="#262626" stroke="#262626" stroke-width="0.25">250</text>
<line x1="324.5" y1="239.88" x2="326.8" y2="239.88" stroke="#999999" stroke-width="0.9"/>
<line x1="545.6" y1="239.88" x2="543.3000000000001" y2="239.88" stroke="#999999" stroke-width="0.9"/>
<text x="323.40" y="243.48" font-size="10.7" text-anchor="end" fill="#262626" stroke="#262626" stroke-width="0.25">300</text>
<line x1="324.5" y1="258.56" x2="326.8" y2="258.56" stroke="#999999" stroke-width="0.9"/>
<line x1="545.6" y1="258.56" x2="543.3000000000001" y2="258.56" stroke="#999999" stroke-width="0.9"/>
<text x="323.40" y="262.28" font-size="10.7" text-anchor="end" fill="#262626" stroke="#262626" stroke-width="0.25">350</text>
<line x1="324.5" y1="277.25" x2="326.8" y2="277.25" stroke="#999999" stroke-width="0.9"/>
<line x1="545.6" y1="277.25" x2="543.3000000000001" y2="277.25" stroke="#999999" stroke-width="0.9"/>
<text x="323.40" y="280.18" font-size="10.7" text-anchor="end" fill="#262626" stroke="#262626" stroke-width="0.25">400</text>
<line x1="324.5" y1="295.94" x2="326.8" y2="295.94" stroke="#999999" stroke-width="0.9"/>
<line x1="545.6" y1="295.94" x2="543.3000000000001" y2="295.94" stroke="#999999" stroke-width="0.9"/>
<text x="323.40" y="299.18" font-size="10.7" text-anchor="end" fill="#262626" stroke="#262626" stroke-width="0.25">450</text>
<line x1="324.5" y1="314.62" x2="326.8" y2="314.62" stroke="#999999" stroke-width="0.9"/>
<line x1="545.6" y1="314.62" x2="543.3000000000001" y2="314.62" stroke="#999999" stroke-width="0.9"/>
<text x="323.40" y="317.28" font-size="10.7" text-anchor="end" fill="#262626" stroke="#262626" stroke-width="0.25">500</text>
<line x1="324.5" y1="333.31" x2="326.8" y2="333.31" stroke="#999999" stroke-width="0.9"/>
<line x1="545.6" y1="333.31" x2="543.3000000000001" y2="333.31" stroke="#999999" stroke-width="0.9"/>
<text x="323.40" y="336.88" font-size="10.7" text-anchor="end" fill="#262626" stroke="#262626" stroke-width="0.25">550</text>
<line x1="324.5" y1="352.00" x2="326.8" y2="352.00" stroke="#999999" stroke-width="0.9"/>
<line x1="545.6" y1="352.00" x2="543.3000000000001" y2="352.00" stroke="#999999" stroke-width="0.9"/>
<text x="323.40" y="354.08" font-size="10.7" text-anchor="end" fill="#262626" stroke="#262626" stroke-width="0.25">600</text>
<rect x="383.2" y="207.5" width="161.10" height="17.40" fill="none" stroke="#959595" stroke-width="1"/>
<path d="M387.70,216.70 H391.70 M389.70,214.70 V218.70" stroke="#ff70ff" stroke-width="0.85"/>
<circle cx="389.70" cy="216.70" r="0.75" fill="#ff70ff"/>
<path d="M333.20,272.30 H337.20 M335.20,270.30 V274.30" stroke="#ff70ff" stroke-width="0.85"/>
<circle cx="335.20" cy="272.30" r="0.75" fill="#ff70ff"/>
<path d="M343.50,270.50 H347.50 M345.50,268.50 V272.50" stroke="#ff70ff" stroke-width="0.85"/>
<circle cx="345.50" cy="270.50" r="0.75" fill="#ff70ff"/>
<path d="M354.30,270.40 H358.30 M356.30,268.40 V272.40" stroke="#ff70ff" stroke-width="0.85"/>
<circle cx="356.30" cy="270.40" r="0.75" fill="#ff70ff"/>
<path d="M364.70,270.70 H368.70 M366.70,268.70 V272.70" stroke="#ff70ff" stroke-width="0.85"/>
<circle cx="366.70" cy="270.70" r="0.75" fill="#ff70ff"/>
<path d="M375.10,270.10 H379.10 M377.10,268.10 V272.10" stroke="#ff70ff" stroke-width="0.85"/>
<circle cx="377.10" cy="270.10" r="0.75" fill="#ff70ff"/>
<path d="M385.60,269.90 H389.60 M387.60,267.90 V271.90" stroke="#ff70ff" stroke-width="0.85"/>
<circle cx="387.60" cy="269.90" r="0.75" fill="#ff70ff"/>
<path d="M396.20,270.30 H400.20 M398.20,268.30 V272.30" stroke="#ff70ff" stroke-width="0.85"/>
<circle cx="398.20" cy="270.30" r="0.75" fill="#ff70ff"/>
<path d="M406.90,271.30 H410.90 M408.90,269.30 V273.30" stroke="#ff70ff" stroke-width="0.85"/>
<circle cx="408.90" cy="271.30" r="0.75" fill="#ff70ff"/>
<path d="M417.60,270.70 H421.60 M419.60,268.70 V272.70" stroke="#ff70ff" stroke-width="0.85"/>
<circle cx="419.60" cy="270.70" r="0.75" fill="#ff70ff"/>
<path d="M428.00,269.80 H432.00 M430.00,267.80 V271.80" stroke="#ff70ff" stroke-width="0.85"/>
<circle cx="430.00" cy="269.80" r="0.75" fill="#ff70ff"/>
<path d="M438.50,271.10 H442.50 M440.50,269.10 V273.10" stroke="#ff70ff" stroke-width="0.85"/>
<circle cx="440.50" cy="271.10" r="0.75" fill="#ff70ff"/>
<path d="M449.10,270.50 H453.10 M451.10,268.50 V272.50" stroke="#ff70ff" stroke-width="0.85"/>
<circle cx="451.10" cy="270.50" r="0.75" fill="#ff70ff"/>
<path d="M459.60,270.90 H463.60 M461.60,268.90 V272.90" stroke="#ff70ff" stroke-width="0.85"/>
<circle cx="461.60" cy="270.90" r="0.75" fill="#ff70ff"/>
<path d="M470.30,270.90 H474.30 M472.30,268.90 V272.90" stroke="#ff70ff" stroke-width="0.85"/>
<circle cx="472.30" cy="270.90" r="0.75" fill="#ff70ff"/>
<path d="M480.70,271.40 H484.70 M482.70,269.40 V273.40" stroke="#ff70ff" stroke-width="0.85"/>
<circle cx="482.70" cy="271.40" r="0.75" fill="#ff70ff"/>
<path d="M491.20,270.50 H495.20 M493.20,268.50 V272.50" stroke="#ff70ff" stroke-width="0.85"/>
<circle cx="493.20" cy="270.50" r="0.75" fill="#ff70ff"/>
<path d="M501.60,270.90 H505.60 M503.60,268.90 V272.90" stroke="#ff70ff" stroke-width="0.85"/>
<circle cx="503.60" cy="270.90" r="0.75" fill="#ff70ff"/>
<path d="M512.30,269.50 H516.30 M514.30,267.50 V271.50" stroke="#ff70ff" stroke-width="0.85"/>
<circle cx="514.30" cy="269.50" r="0.75" fill="#ff70ff"/>
<path d="M523.00,270.70 H527.00 M525.00,268.70 V272.70" stroke="#ff70ff" stroke-width="0.85"/>
<circle cx="525.00" cy="270.70" r="0.75" fill="#ff70ff"/>
<path d="M533.50,271.60 H537.50 M535.50,269.60 V273.60" stroke="#ff70ff" stroke-width="0.85"/>
<circle cx="535.50" cy="271.60" r="0.75" fill="#ff70ff"/></svg>
</body></html>
